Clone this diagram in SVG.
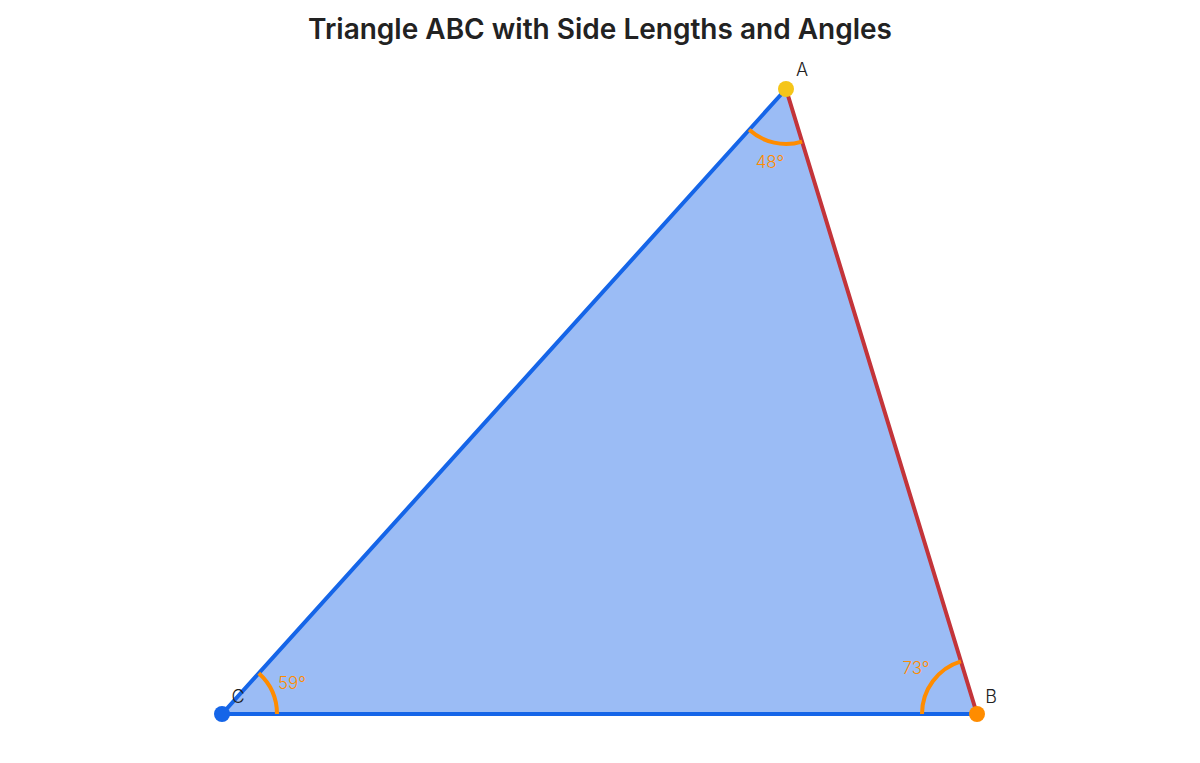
<svg xmlns="http://www.w3.org/2000/svg" width="1200" height="763" viewBox="0 0 1200 763">
<style>
.title{font-family:Inter,"Liberation Sans",sans-serif;font-weight:600;font-size:28px;fill:#222;}
.vlab{font-family:Inter,"Liberation Sans",sans-serif;font-weight:300;font-size:18px;fill:#222;}
.alab{font-family:Inter,"Liberation Sans",sans-serif;font-weight:300;font-size:17px;fill:#ff8c00;}
.arc{fill:none;stroke:#ff8c00;stroke-width:4;}
.edge{stroke-width:4;stroke-linecap:round;}
</style>
<rect width="1200" height="763" fill="#fff"/>
<text class="title" x="600" y="39" text-anchor="middle">Triangle ABC with Side Lengths and Angles</text>
<g id="face"><polygon points="786,89 977,714 222,714" fill="#9bbcf5"/></g>
<g id="connectors">
<line class="edge" x1="222" y1="714" x2="786" y2="89" stroke="#1565e8"/>
<line class="edge" x1="222" y1="714" x2="977" y2="714" stroke="#1565e8"/>
<line class="edge" x1="786" y1="89" x2="977" y2="714" stroke="#c3343a"/>
</g>
<g id="angle-A"><path class="arc" d="M749.2,129.8 A55,55 0 0 0 802.1,141.6"/><text class="alab" x="770" y="168" text-anchor="middle">48°</text></g>
<g id="angle-C"><path class="arc" d="M258.8,673.2 A55,55 0 0 1 277,714"/><text class="alab" x="292" y="689" text-anchor="middle">59°</text></g>
<g id="angle-B"><path class="arc" d="M922,714 A55,55 0 0 1 960.9,661.4"/><text class="alab" x="916" y="674" text-anchor="middle">73°</text></g>
<g id="node-A"><circle cx="786" cy="89" r="8" fill="#f5c518"/><text class="vlab" x="802" y="76" text-anchor="middle">A</text></g>
<g id="node-B"><circle cx="977" cy="714" r="8" fill="#ff8c00"/><text class="vlab" x="991" y="703" text-anchor="middle">B</text></g>
<g id="node-C"><circle cx="222" cy="714" r="8" fill="#1565e8"/><text class="vlab" x="238" y="703" text-anchor="middle">C</text></g>
</svg>
